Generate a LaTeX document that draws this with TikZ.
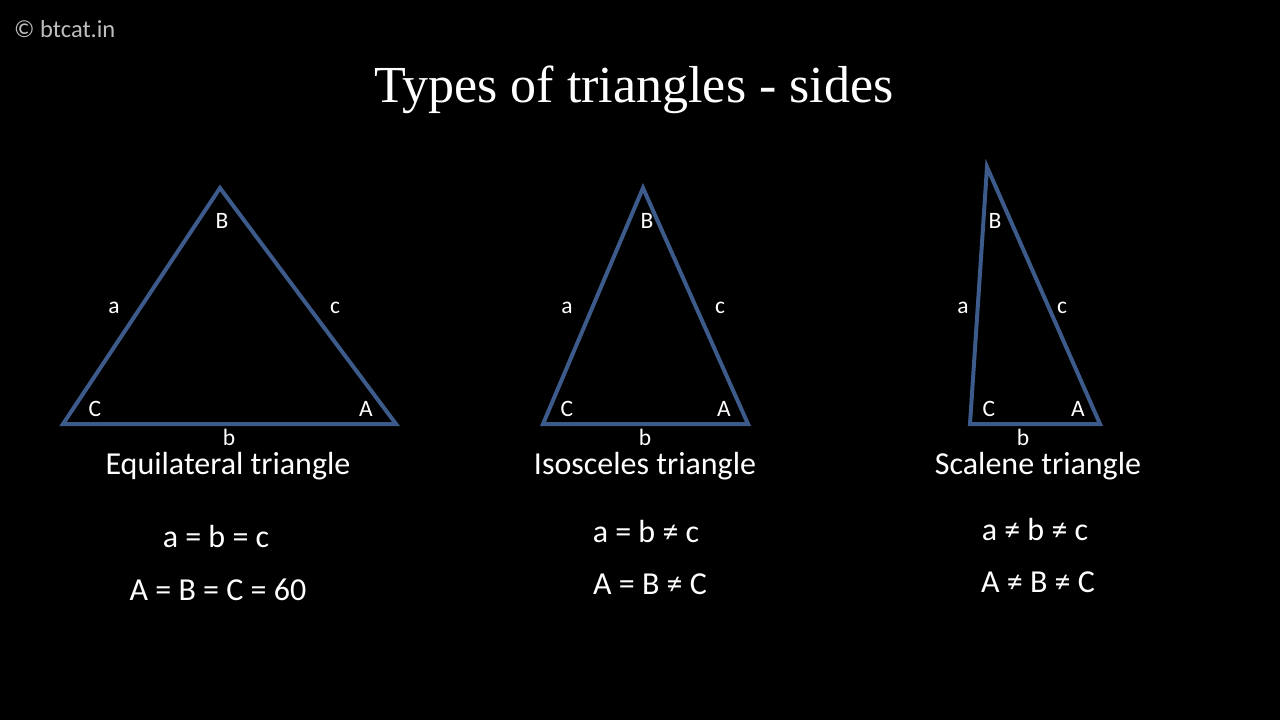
\documentclass[tikz,border=0pt]{standalone}
\usepackage{fontspec}
\setmainfont{Carlito}
\newfontfamily\titlefont{Liberation Serif}
\definecolor{sidecol}{HTML}{3C5A8A}
\definecolor{markgray}{HTML}{BEBEBE}
\tikzset{
  side/.style={draw=sidecol, line width=4pt, line join=miter},
  vlabel/.style={text=white, font=\fontsize{23.5}{23.5}\selectfont, inner sep=0pt},
  caption/.style={text=white, font=\fontsize{32}{32}\selectfont, inner sep=0pt},
  formula/.style={text=white, font=\fontsize{32}{32}\selectfont, inner sep=0pt}
}

\begin{document}
\begin{tikzpicture}[x=1pt, y=-1pt]
    \fill[black] (0,0) rectangle (1280,720);
    \useasboundingbox (0,0) rectangle (1280,720);

    \coordinate (C1) at (63, 424);
    \coordinate (A1) at (396, 424);
    \coordinate (B1) at (220, 188);

    \coordinate (C2) at (543, 424);
    \coordinate (A2) at (748, 424);
    \coordinate (B2) at (643, 188);

    \coordinate (C3) at (970, 424);
    \coordinate (A3) at (1100, 424);
    \coordinate (B3) at (987, 167);

    \draw[anchor=west] (14, 29) node[text=markgray, font=\fontsize{24.5}{24.5}\selectfont, inner sep=0pt] {© btcat.in};
    \draw (634, 90) node[text=white, font=\titlefont\fontsize{52}{52}\selectfont, inner sep=0pt] {Types of triangles - sides};

    \draw[side] (C1) -- (A1) -- (B1) -- cycle;
    \draw[side] (C2) -- (A2) -- (B2) -- cycle;
    \draw[side] (C3) -- (A3) -- (B3) -- cycle;

    \draw (222, 221) node[vlabel] {B};
    \draw (95, 409) node[vlabel] {C};
    \draw (366, 409) node[vlabel] {A};
    \draw (114, 308) node[vlabel] {a};
    \draw (335, 308) node[vlabel] {c};
    \draw (229, 437) node[vlabel] {b};

    \draw (647, 221) node[vlabel] {B};
    \draw (567, 409) node[vlabel] {C};
    \draw (724, 409) node[vlabel] {A};
    \draw (567, 308) node[vlabel] {a};
    \draw (720, 308) node[vlabel] {c};
    \draw (645, 437) node[vlabel] {b};

    \draw (995, 221) node[vlabel] {B};
    \draw (989, 409) node[vlabel] {C};
    \draw (1078, 409) node[vlabel] {A};
    \draw (963, 308) node[vlabel] {a};
    \draw (1062, 308) node[vlabel] {c};
    \draw (1023, 437) node[vlabel] {b};

    \draw (228, 466) node[caption] {Equilateral triangle};
    \draw (645, 466) node[caption] {Isosceles triangle};
    \draw (1038, 466) node[caption] {Scalene triangle};

    \draw (216, 537) node[formula] {a = b = c};
    \draw (218, 590) node[formula] {A = B = C = 60};
    \draw (646, 532) node[formula] {a = b ≠ c};
    \draw (650, 584) node[formula] {A = B ≠ C};
    \draw (1035, 530) node[formula] {a ≠ b ≠ c};
    \draw (1038, 582) node[formula] {A ≠ B ≠ C};
\end{tikzpicture}
\end{document}
